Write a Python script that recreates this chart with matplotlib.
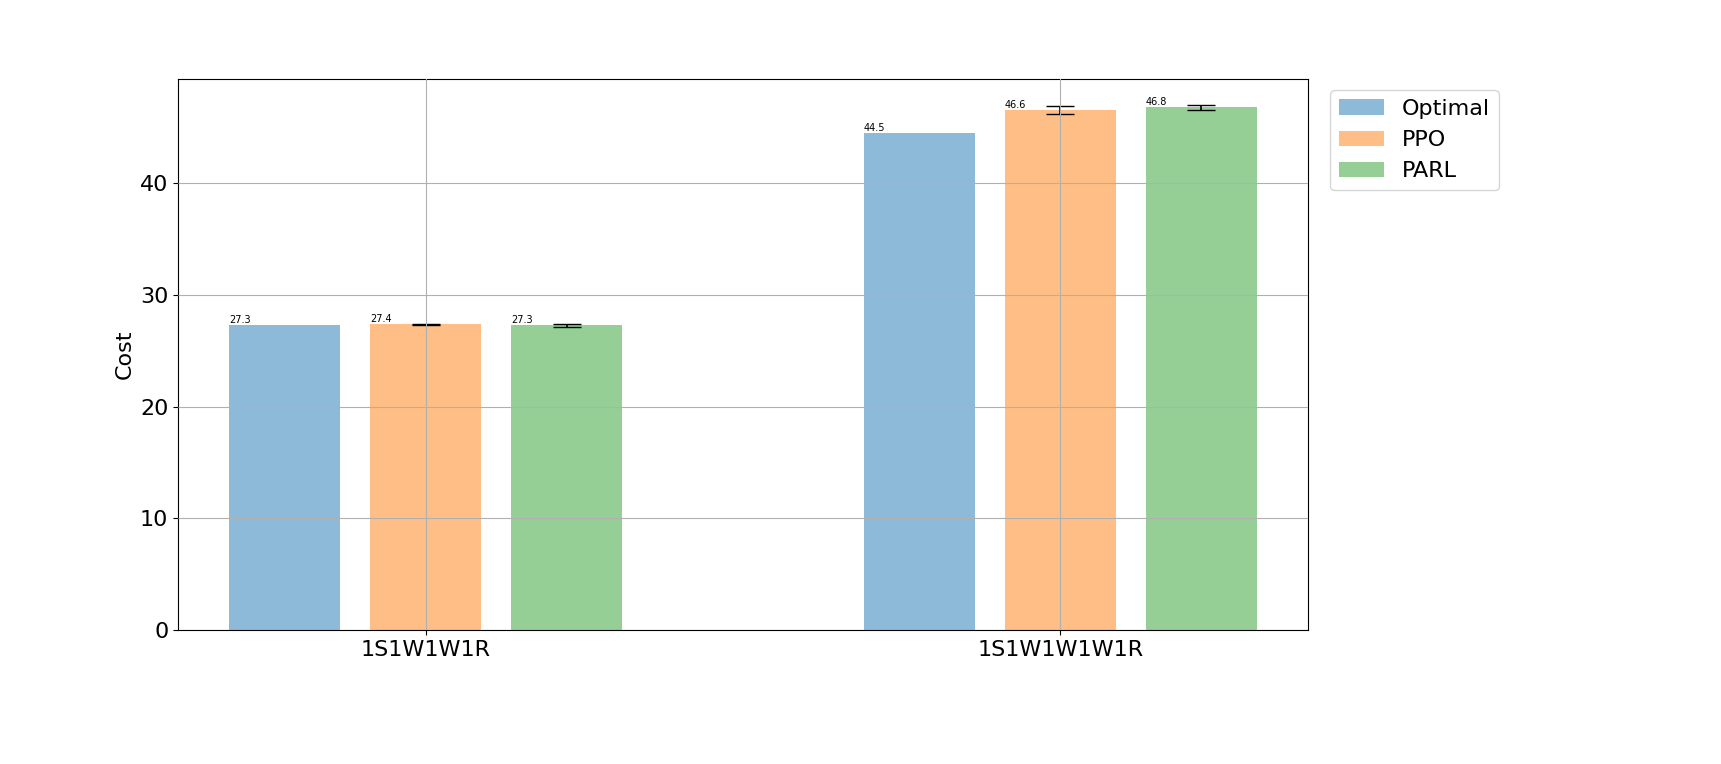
import matplotlib
matplotlib.use("Agg")
import matplotlib.pyplot as plt
import numpy as np

groups = ["1S1W1W1R", "1S1W1W1W1R"]
methods = ["Optimal", "PPO", "PARL"]
means = {"Optimal": [27.3, 44.5], "PPO": [27.4, 46.6], "PARL": [27.3, 46.8]}
errs = {"Optimal": [0.0, 0.0], "PPO": [0.05, 0.35], "PARL": [0.12, 0.2]}
colors = ["#1f77b4", "#ff7f0e", "#2ca02c"]

fig = plt.figure(figsize=(17.21, 7.64), dpi=100)
ax = fig.add_axes([178/1721, 1-630/764, (1308-178)/1721, (630-79)/764])
x = np.arange(len(groups))
w = 0.175
offs = [-0.222, 0, 0.222]
for m, c, o in zip(methods, colors, offs):
    xs = x + o
    yerr = errs[m] if any(errs[m]) else None
    ax.bar(xs, means[m], w, color=c, alpha=0.5, label=m, yerr=yerr, capsize=10,
           error_kw=dict(ecolor="black", elinewidth=1.2))
    for xi, v in zip(xs, means[m]):
        ax.text(xi - w/2, v, f"{v:.1f}", fontsize=7, ha="left", va="bottom")
ax.set_xticks(x)
ax.set_xticklabels(groups, fontsize=16)
ax.tick_params(axis="y", labelsize=16)
ax.set_ylabel("Cost", fontsize=16)
ax.grid(True)
ax.set_axisbelow(False)
ax.legend(loc="upper left", bbox_to_anchor=(1.01, 1.0), fontsize=16)
fig.savefig("out.png", dpi=100)
